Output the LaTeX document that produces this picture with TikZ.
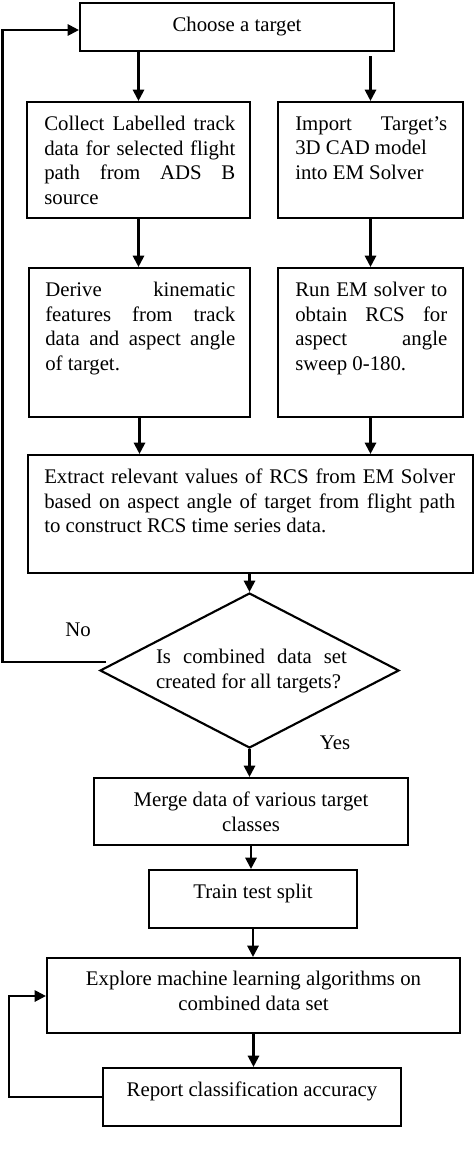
\documentclass[tikz,border=0pt]{standalone}
\usepackage{fontspec}
\setmainfont{Liberation Serif}
\usetikzlibrary{arrows.meta,shapes.geometric}
\begin{document}
\begin{tikzpicture}[x=0.75pt,y=-0.75pt,
  box/.style={draw=black, line width=1.6pt, inner sep=0pt, rectangle},
  txt/.style={inner sep=0pt, font=\fontsize{15.6pt}{18.4pt}\selectfont,
    execute at begin node={\tolerance=10000\hyphenpenalty=10000\emergencystretch=2em}},
  jtxt/.style={txt, align=justify, anchor=north west},
  ctxt/.style={txt, align=center, anchor=north},
  arr/.style={line width=1.6pt, -{Triangle[length=8.5pt,width=8.5pt]}}]
\useasboundingbox (0,0) rectangle (474,1153);

% boxes
\node[box, minimum width=235.5pt, minimum height=36pt] (choose) at (237,27) {};
\node[box, minimum width=167.25pt, minimum height=87pt] (collect) at (138.5,160) {};
\node[box, minimum width=138.75pt, minimum height=87pt] (import) at (370.5,160) {};
\node[box, minimum width=165.75pt, minimum height=111.75pt] (derive) at (139.5,342.5) {};
\node[box, minimum width=138.75pt, minimum height=111.75pt] (run) at (370.5,342.5) {};
\node[box, minimum width=333.75pt, minimum height=88.5pt] (extract) at (250.5,514) {};
\node[draw=black, line width=1.6pt, diamond, inner sep=0pt, minimum width=224.25pt, minimum height=116.25pt] (dec) at (249.5,670.5) {};
\node[box, minimum width=235.5pt, minimum height=50.25pt] (merge) at (251,811.5) {};
\node[box, minimum width=156pt, minimum height=43.5pt] (train) at (253,899) {};
\node[box, minimum width=309.75pt, minimum height=56.25pt] (explore) at (253.5,995.5) {};
\node[box, minimum width=223.5pt, minimum height=43.5pt] (report) at (252,1097) {};

% texts
\node[ctxt] (chooset) at (237,17) {Choose a target};
\node[jtxt, text width=143.25pt] (collectt) at (44,116) {Collect Labelled track\linebreak data for selected flight\linebreak path from ADS B\linebreak source};
\node[jtxt, text width=114pt] (importt) at (295,116) {Import Target’s\linebreak 3D CAD model\newline into EM Solver};
\node[jtxt, text width=142.5pt] (derivet) at (45,282) {Derive kinematic\linebreak features from track\linebreak data and aspect angle\linebreak of target.};
\node[jtxt, text width=114pt] (runt) at (295,282) {Run EM solver to\linebreak obtain RCS for\linebreak aspect angle\linebreak sweep 0-180.};
\node[jtxt, text width=308.25pt] (extractt) at (44,469) {Extract relevant values of RCS from EM Solver\linebreak based on aspect angle of target from flight path\linebreak to construct RCS time series data.};
\node[txt, align=justify, text width=143.25pt] (dect) at (251.5,671) {Is combined data set\linebreak created for all targets?};
\node[ctxt] (merget) at (251,792) {Merge data of various target\\classes};
\node[ctxt] (traint) at (253,884) {Train test split};
\node[ctxt] (exploret) at (253.5,971) {Explore machine learning algorithms on\\combined data set};
\node[ctxt] (reportt) at (252,1082) {Report classification accuracy};
\node[txt] (nolbl) at (78,630) {No};
\node[txt] (yeslbl) at (335,743) {Yes};

% connectors
\draw[arr] (choose.south -| collect.north) -- (collect.north);
\draw[arr, shorten <=3pt] (choose.south -| import.north) -- (import.north);
\draw[arr] (collect.south) -- (collect.south |- derive.north);
\draw[arr] (import.south) -- (run.north);
\draw[arr] (derive.south) -- (derive.south |- extract.north);
\draw[arr] (run.south) -- (run.south |- extract.north);
\draw[arr] (extract.south -| dec.north) -- (dec.north);
\draw[arr] (dec.south) -- (dec.south |- merge.north);
\draw[arr] (merge.south) -- (merge.south |- train.north);
\draw[arr] (train.south) -- (train.south |- explore.north);
\draw[arr] (explore.south) -- (explore.south |- report.north);

\coordinate (nostart) at (106,662);
\coordinate (nocorner) at (2.5,30);
\draw[arr] (nostart) -| (nocorner) -- (nocorner -| choose.west);

\coordinate (fbcorner) at (9,996);
\draw[arr] (report.west) -| (fbcorner) -- (fbcorner -| explore.west);
\end{tikzpicture}
\end{document}
